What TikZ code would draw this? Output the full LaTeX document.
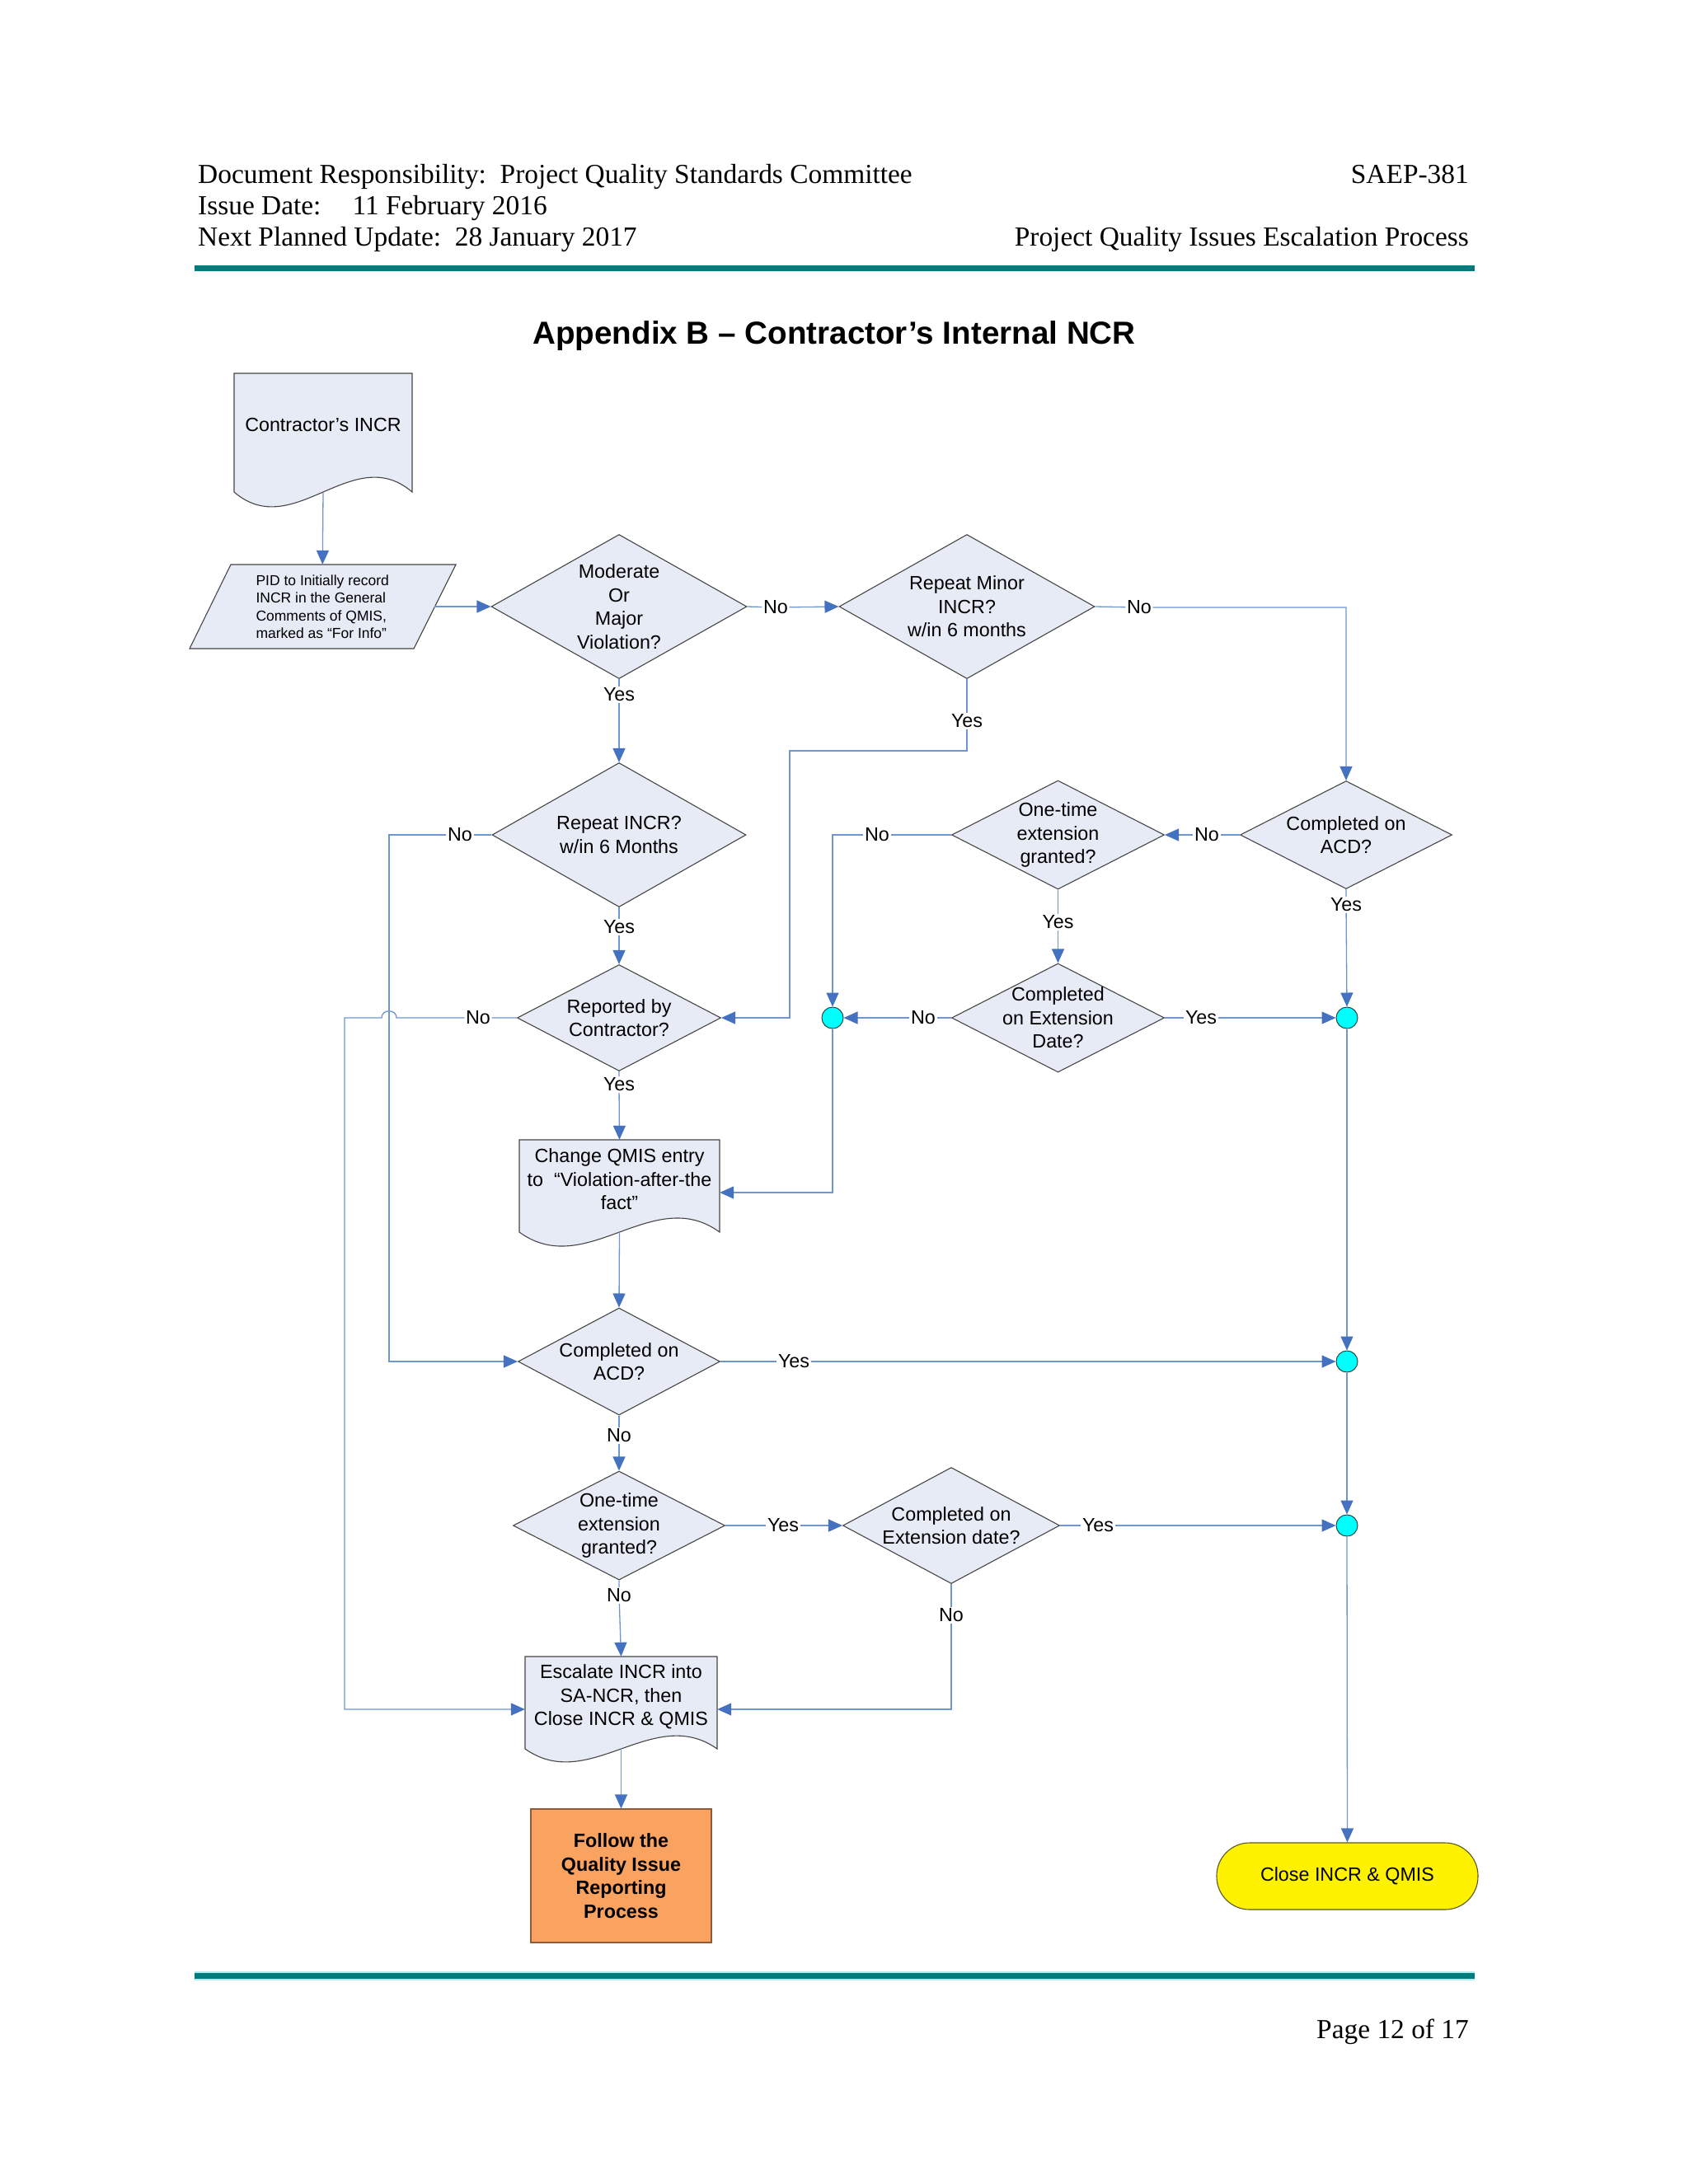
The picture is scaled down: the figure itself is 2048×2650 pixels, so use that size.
\documentclass[tikz,border=0pt]{standalone}
\usepackage{fontspec}
\setmainfont{Liberation Serif}
\newfontfamily\arialf{Liberation Sans}
\usetikzlibrary{shapes.geometric,arrows.meta,calc}
\definecolor{lav}{RGB}{231,235,246}
\definecolor{edgec}{RGB}{70,70,70}
\definecolor{conn}{RGB}{112,150,208}
\definecolor{tipc}{RGB}{68,114,192}
\definecolor{tealbar}{RGB}{0,124,124}
\definecolor{tealglow}{RGB}{175,238,238}
\definecolor{orangef}{RGB}{250,162,96}
\definecolor{orangee}{RGB}{140,90,60}
\definecolor{cyanf}{RGB}{0,255,255}
\definecolor{cyane}{RGB}{30,70,70}
\definecolor{yellowe}{RGB}{90,90,30}
\newcommand\bodyf{\arialf\fontsize{23.3}{28.5}\selectfont}
\newcommand\smallf{\arialf\fontsize{17.5}{21.5}\selectfont}
\newcommand\hdrf{\fontsize{33.4}{38}\selectfont}
\tikzset{
  dia/.style={shape=diamond, draw=edgec, fill=lav, line width=1.1pt, inner sep=-25pt, align=center, font=\bodyf},
  lbl/.style={inner sep=1.5pt, font=\bodyf},
  conline/.style={draw=conn, line width=1.3pt},
  arr/.style={conline, -{Triangle[length=17pt,width=15pt,color=tipc]}},
  jn/.style={circle, draw=cyane, fill=cyanf, minimum size=26pt, inner sep=0pt, line width=1pt},
  ghost/.style={shape=rectangle, inner sep=0pt},
  txt/.style={align=center, font=\bodyf, inner sep=0pt},
  docshape/.style={draw=edgec, fill=lav, line width=1.1pt},
  hdr/.style={inner sep=0pt, font=\hdrf},
}
\begin{document}
\begin{tikzpicture}[x=1pt,y=-1pt]
\useasboundingbox (0,0) rectangle (2048,2650);
\fill[white] (0,0) rectangle (2048,2650);

% ---------- header ----------
\node[hdr, anchor=base west] (h1) at (240,222) {Document Responsibility:\ \ Project Quality Standards Committee};
\node[hdr, anchor=base west] (h2) at (240,260) {Issue Date:\hspace{38pt}11 February 2016};
\node[hdr, anchor=base west] (h3) at (240,298) {Next Planned Update:\ \ 28 January 2017};
\node[hdr, anchor=base east] (h4) at (1782,222) {SAEP-381};
\node[hdr, anchor=base east] (h5) at (1782,298) {Project Quality Issues Escalation Process};
\draw[tealbar, line width=7pt] (236,325) -- (1789,325);

\node[anchor=base, inner sep=0pt] (title) at (1012,417)
  {\arialf\bfseries\fontsize{38.6}{44}\selectfont Appendix B – Contractor’s Internal NCR};

% ---------- footer ----------
\draw[tealglow, line width=11pt] (236,2397) -- (1789,2397);
\draw[tealbar, line width=7pt] (236,2397) -- (1789,2397);
\node[hdr, anchor=base east] (pg) at (1782,2473) {Page 12 of 17};

% ---------- document / data shapes ----------
\filldraw[docshape] (284,453) -- (500,453) -- (500,597) .. controls (428,535) and (356,659) .. (284,597) -- cycle;
\node[ghost, minimum width=216, minimum height=144] (incr) at (392,525) {};
\node[txt] (incrT) at (392,515) {Contractor’s INCR};
\coordinate (incrB) at (392,598);

\filldraw[docshape] (280,685) -- (553,685) -- (502,787) -- (230,787) -- cycle;
\node[ghost, minimum width=272, minimum height=102, align=left, font=\smallf] (pid) at (391.25,736)
  {PID to Initially record\\INCR in the General\\Comments of QMIS,\\marked as “For Info”};

\filldraw[docshape] (630,1383) -- (873,1383) -- (873,1495) .. controls (792,1436) and (711,1554) .. (630,1495) -- cycle;
\node[ghost, minimum width=243, minimum height=128] (chg) at (751.5,1447) {};
\node[txt] (chgT) at (751.5,1431) {Change QMIS entry\\to\ \ “Violation-after-the\\fact”};
\coordinate (chgB) at (751.5,1495);

\filldraw[docshape] (637,2010) -- (870,2010) -- (870,2122) .. controls (792.3,2067) and (714.7,2177) .. (637,2122) -- cycle;
\node[ghost, minimum width=233, minimum height=128] (esc) at (753.5,2074) {};
\node[txt] (escT) at (753.5,2059) {Escalate INCR into\\SA-NCR, then\\Close INCR \& QMIS};
\coordinate (escB) at (753.5,2122);

% ---------- decisions ----------
\node[dia, minimum width=310, minimum height=175] (d1) at (751,736) {Moderate\\Or\\Major\\Violation?};
\node[dia, minimum width=310, minimum height=175] (d2) at (1173,736) {Repeat Minor\\INCR?\\w/in 6 months};
\node[dia, minimum width=308, minimum height=175] (d3) at (751,1013) {Repeat INCR?\\w/in 6 Months};
\node[dia, minimum width=258, minimum height=132] (d4) at (1283.5,1013) {One-time\\extension\\granted?};
\node[dia, minimum width=257, minimum height=131] (d5) at (1633,1013) {Completed on\\ACD?};
\node[dia, minimum width=247, minimum height=129] (d6) at (751,1235) {Reported by\\Contractor?};
\node[dia, minimum width=258, minimum height=132] (d7) at (1283.5,1235) {Completed\\on Extension\\Date?};
\node[dia, minimum width=245, minimum height=130] (d8) at (751,1652) {Completed on\\ACD?};
\node[dia, minimum width=257, minimum height=132] (d9) at (751,1851) {One-time\\extension\\granted?};
\node[dia, minimum width=263, minimum height=141] (d10) at (1154,1851) {Completed on\\Extension date?};

% ---------- junctions ----------
\node[jn] (c1) at (1010,1235) {};
\node[jn] (c2) at (1634,1235) {};
\node[jn] (c3) at (1634,1652) {};
\node[jn] (c4) at (1634,1851) {};

% ---------- terminals ----------
\node[draw=orangee, fill=orangef, line width=1.1pt, minimum width=219, minimum height=162,
      align=center, font=\bodyf\bfseries, inner sep=0pt] (fol) at (753.5,2276)
  {Follow the\\Quality Issue\\Reporting\\Process};
\node[draw=yellowe, fill=yellow, line width=1.1pt, rounded corners=40pt, minimum width=317,
      minimum height=81, font=\bodyf, inner sep=0pt] (close) at (1634.5,2276.5) {Close INCR \& QMIS};

% ---------- labels ----------
\node[lbl] (lNo1) at (941,737) {No};
\node[lbl] (lNo2) at (1382,737) {No};
\node[lbl] (lYes1) at (751,843) {Yes};
\node[lbl] (lYes2) at (1173,875) {Yes};
\node[lbl] (lNo3) at (558,1013) {No};
\node[lbl] (lYes3) at (751,1125) {Yes};
\node[lbl] (lNo5) at (1464,1013) {No};
\node[lbl] (lNo4) at (1064,1013) {No};
\node[lbl] (lYes4) at (1283.5,1119) {Yes};
\node[lbl] (lYes5) at (1633,1098) {Yes};
\node[lbl] (lNo6) at (580,1235) {No};
\node[lbl] (lNo7) at (1120,1235) {No};
\node[lbl] (lYes7) at (1457,1235) {Yes};
\node[lbl] (lYes6) at (751,1316) {Yes};
\node[lbl] (lYes8) at (963,1652) {Yes};
\node[lbl] (lNo8) at (751,1742) {No};
\node[lbl] (lYes9) at (950,1851) {Yes};
\node[lbl] (lYes10) at (1332,1851) {Yes};
\node[lbl] (lNo9) at (751,1936) {No};
\node[lbl] (lNo10) at (1154,1960) {No};

% ---------- routing points ----------
\coordinate (k1) at (958,911);
\coordinate (k2) at (472,1652);
\coordinate (hopR) at (481,1235);
\coordinate (hopL) at (463,1235);
\coordinate (k3) at (418,1235);

% ---------- connectors ----------
\draw[arr] (incrB) -- (pid.north);
\draw[arr] (pid.east) -- (d1.west);
\draw[arr] (d1.east) -- (lNo1) -- (d2.west);
\draw[arr] (d2.east) -- (lNo2) -| (d5.north);
\draw[arr] (d1.south) -- (lYes1) -- (d3.north);
\draw[arr] (d2.south) -- (lYes2) |- (k1) |- (d6.east);
\draw[arr] (d3.west) -- (lNo3) -| (k2) -- (d8.west);
\draw[arr] (d3.south) -- (lYes3) -- (d6.north);
\draw[arr] (d5.west) -- (lNo5) -- (d4.east);
\draw[arr] (d4.west) -- (lNo4) -| (c1.north);
\draw[arr] (d4.south) -- (lYes4) -- (d7.north);
\draw[arr] (d7.west) -- (lNo7) -- (c1.east);
\draw[arr] (d7.east) -- (lYes7) -- (c2.west);
\draw[arr] (d5.south) -- (lYes5) -- (c2.north);
\draw[arr] (c2.south) -- (c3.north);
\draw[arr] (c3.south) -- (c4.north);
\draw[arr] (c4.south) -- (close.north);
\draw[arr] (c1.south) |- (chg.east);
\draw[arr] (d6.west) -- (lNo6) -- (hopR) .. controls +(0,-11) and +(0,-11) .. (hopL) -- (k3) |- (esc.west);
\draw[arr] (d6.south) -- (lYes6) -- (chg.north);
\draw[arr] (chgB) -- (d8.north);
\draw[arr] (d8.east) -- (lYes8) -- (c3.west);
\draw[arr] (d8.south) -- (lNo8) -- (d9.north);
\draw[arr] (d9.east) -- (lYes9) -- (d10.west);
\draw[arr] (d10.east) -- (lYes10) -- (c4.west);
\draw[arr] (d9.south) -- (lNo9) -- (esc.north);
\draw[arr] (d10.south) -- (lNo10) |- (esc.east);
\draw[arr] (escB) -- (fol.north);
\end{tikzpicture}
\end{document}
